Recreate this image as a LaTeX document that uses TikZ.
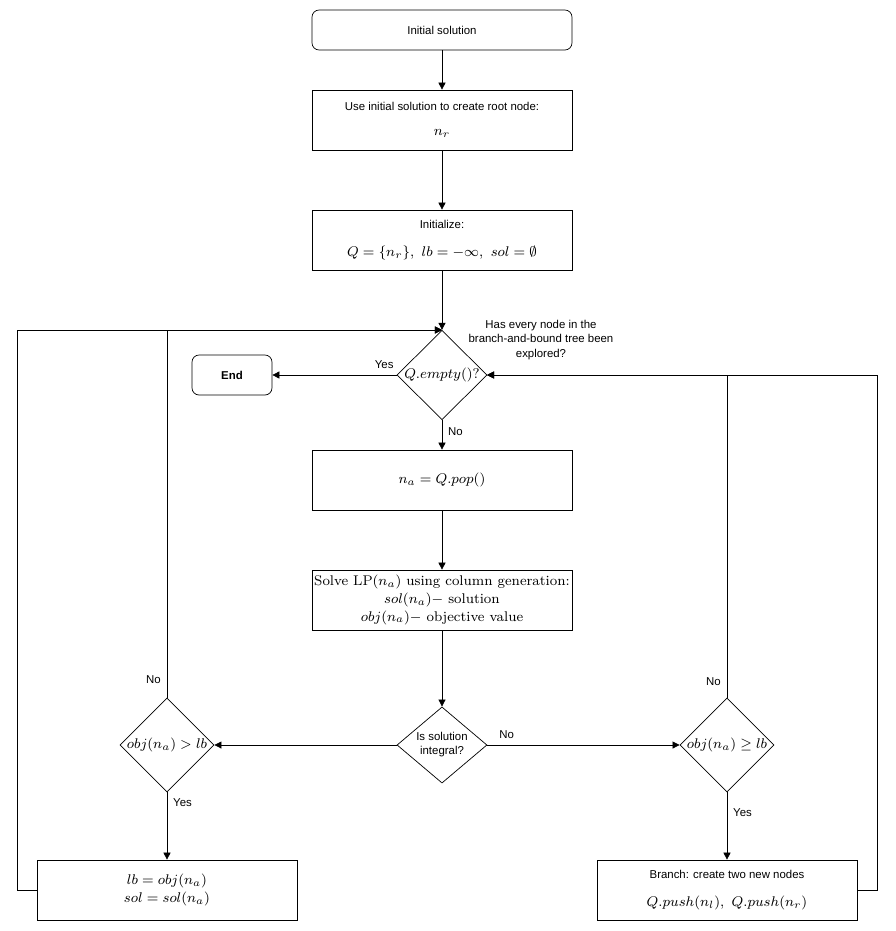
\documentclass[tikz,border=0pt]{standalone}
\usepackage{amsmath}
\usepackage{fontspec}
\setsansfont{Liberation Sans}
\usetikzlibrary{shapes.geometric, arrows.meta}

\tikzset{
    box/.style = {draw, minimum width = 5.2cm, minimum height = 1.2cm, align = center, inner sep = 1pt},
    rbox/.style = {box, rounded corners = 4pt, minimum height = 0.8cm},
    test/.style = {draw, diamond, aspect = 1, minimum width = 1.8cm, inner sep = 0pt, align = center},
    lbl/.style = {font = \sffamily\fontsize{6.5}{8}\selectfont},
    flow/.style = {-{Triangle[length = 4pt, width = 4pt]}}
}

\begin{document}
\begin{tikzpicture}[x = 0.02cm, y = -0.02cm, font = \fontsize{8}{10}\selectfont]
            \useasboundingbox (0, 0) rectangle (896, 931);

            \node[rbox, lbl] (start) at (442, 30) {Initial solution};
            \node[box] (root) at (442, 120) {\sffamily\fontsize{6.5}{8}\selectfont Use initial solution to create root node:\\[4pt] $n_r$};
            \node[box] (init) at (442, 240) {\sffamily\fontsize{6.5}{8}\selectfont Initialize:\\[6pt] $Q=\{n_r\},\ lb=-\infty,\ sol=\emptyset$};
            \node[test] (empty) at (442, 375) {$Q.empty()?$};
            \node[rbox, lbl, minimum width = 1.6cm, font = \sffamily\bfseries\fontsize{6.5}{8}\selectfont] (end) at (232, 375) {End};
            \node[box] (pop) at (442, 480) {$n_a=Q.pop()$};
            \node[box] (solve) at (442, 600) {Solve $\mathrm{LP}(n_a)$ using column generation:\\ $sol(n_a)-$ solution\\ $obj(n_a)-$ objective value};
            \node[test, lbl] (integral) at (442, 745) {Is solution\\integral?};
            \node[test] (better) at (167, 745) {$obj(n_a)>lb$};
            \node[test] (prune) at (727, 745) {$obj(n_a)\geq lb$};
            \node[box] (update) at (167, 890) {$lb=obj(n_a)$\\ $sol=sol(n_a)$};
            \node[box] (branch) at (727, 890) {\sffamily\fontsize{6.5}{8}\selectfont Branch: create two new nodes\\[6pt] $Q.push(n_l),\ Q.push(n_r)$};

            \coordinate (top_in) at (442, 330);
            \coordinate (right_in) at (487, 375);

            \node[lbl, align = center] (note) at (541, 340) {Has every node in the\\branch-and-bound tree been\\explored?};

            \draw[flow](start) -- (root);
            \draw[flow](root) -- (init);
            \draw[flow](init) -- (empty);
            \draw[flow](empty) -- node[lbl, above, pos = 0.1] {Yes} (end);
            \draw[flow](empty) -- node[lbl, right, pos = 0.4] {No} (pop);
            \draw[flow](pop) -- (solve);
            \draw[flow](solve) -- (integral);
            \draw[flow](integral) -- (better);
            \draw[flow](integral) -- node[lbl, above, pos = 0.1] {No} (prune);
            \draw[flow](better) -- node[lbl, right, pos = 0.15] {Yes} (update);
            \draw[flow](prune) -- node[lbl, right, pos = 0.3] {Yes} (branch);

            \draw[flow](better.north) -- node[lbl, left, pos = 0.05] {No} (167, 330) -- (top_in);
            \draw[flow](update.west) -- (17, 890) -- (17, 330) -- (top_in);
            \draw[flow](prune.north) -- node[lbl, left, pos = 0.05] {No} (727, 375) -- (right_in);
            \draw[flow](branch.east) -- (877, 890) -- (877, 375) -- (right_in);
        \end{tikzpicture}
\end{document}
